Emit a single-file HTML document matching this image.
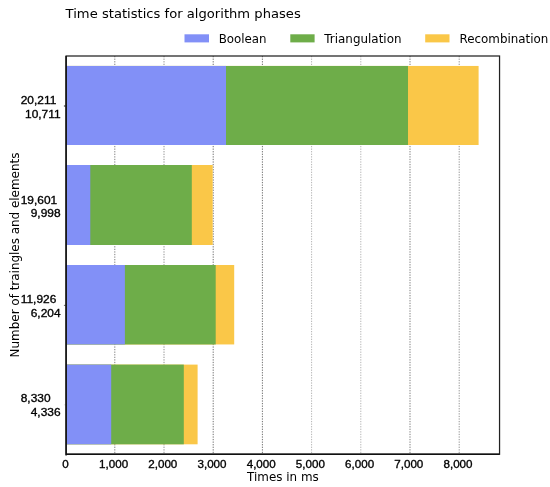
<!DOCTYPE html>
<html><head><meta charset="utf-8"><title>Time statistics for algorithm phases</title>
<style>
html,body{margin:0;padding:0;background:#fff;}
svg{display:block;}
.dv{font-family:"DejaVu Sans","Liberation Sans",sans-serif;fill:#000;}
.lb{font-family:"Liberation Sans","DejaVu Sans",sans-serif;fill:#000;stroke:#000;stroke-width:0.32;}
</style></head><body>
<svg width="550" height="487" viewBox="0 0 550 487">
<rect width="550" height="487" fill="#fff"/>
<g stroke-width="1" stroke-dasharray="1.3,1.27" fill="none">
<line x1="114.8" y1="56" x2="114.8" y2="455" stroke="#808080"/>
<line x1="164.0" y1="56" x2="164.0" y2="455" stroke="#909090"/>
<line x1="213.2" y1="56" x2="213.2" y2="455" stroke="#707070"/>
<line x1="262.4" y1="56" x2="262.4" y2="455" stroke="#707070"/>
<line x1="311.6" y1="56" x2="311.6" y2="455" stroke="#b4b4b4"/>
<line x1="360.8" y1="56" x2="360.8" y2="455" stroke="#b4b4b4"/>
<line x1="410.0" y1="56" x2="410.0" y2="455" stroke="#7c7c7c"/>
<line x1="459.2" y1="56" x2="459.2" y2="455" stroke="#949494"/>
</g>
<g>
<rect x="66.5" y="65.95" width="412.1" height="79.05" fill="#fac748"/>
<rect x="66.5" y="65.95" width="341.5" height="79.05" fill="#6ead49"/>
<rect x="66.5" y="65.95" width="159.5" height="79.05" fill="#8290f7"/>
<rect x="66.5" y="165.00" width="146.2" height="80.00" fill="#fac748"/>
<rect x="66.5" y="165.00" width="125.3" height="80.00" fill="#6ead49"/>
<rect x="66.5" y="165.00" width="23.8" height="80.00" fill="#8290f7"/>
<rect x="66.5" y="265.00" width="167.7" height="79.45" fill="#fac748"/>
<rect x="66.5" y="265.00" width="149.2" height="79.45" fill="#6ead49"/>
<rect x="66.5" y="265.00" width="58.4" height="79.45" fill="#8290f7"/>
<rect x="66.5" y="364.60" width="131.1" height="79.70" fill="#fac748"/>
<rect x="66.5" y="364.60" width="117.3" height="79.70" fill="#6ead49"/>
<rect x="66.5" y="364.60" width="44.7" height="79.70" fill="#8290f7"/>
</g>
<rect x="66.1" y="56.0" width="433.45" height="398.25" fill="none" stroke="#222" stroke-width="1.25"/>
<line x1="66.1" y1="56.0" x2="66.1" y2="455.45" stroke="#111" stroke-width="1.5"/>
<line x1="66.1" y1="454.25" x2="499.55" y2="454.25" stroke="#111" stroke-width="1.45"/>
<g stroke="#111" stroke-width="1.1">
<line x1="63.9" y1="106.0" x2="65.5" y2="106.0" stroke-opacity="0.9"/>
<line x1="63.9" y1="305.4" x2="65.5" y2="305.4" stroke-opacity="0.6"/>
<line x1="63.9" y1="404.8" x2="65.5" y2="404.8" stroke-opacity="0.12"/>
</g>
<text class="dv" x="65.6" y="17.6" font-size="12.6" textLength="235.2" lengthAdjust="spacingAndGlyphs">Time statistics for algorithm phases</text>
<rect x="184.5" y="34.3" width="24.5" height="8.1" fill="#8290f7"/>
<text class="dv" x="218.7" y="42.8" font-size="12.4" textLength="47.9" lengthAdjust="spacingAndGlyphs">Boolean</text>
<rect x="290.3" y="34.3" width="24.3" height="8.1" fill="#6ead49"/>
<text class="dv" x="324.3" y="42.8" font-size="12.4" textLength="77.2" lengthAdjust="spacingAndGlyphs">Triangulation</text>
<rect x="425.2" y="34.3" width="24.3" height="8.1" fill="#fac748"/>
<text class="dv" x="459.5" y="42.8" font-size="12.4" textLength="88.8" lengthAdjust="spacingAndGlyphs">Recombination</text>
<g class="lb" font-size="10.7" text-anchor="end">
<text x="20.7" y="104.2" text-anchor="start" transform="translate(20.7 0) scale(1.115 1) translate(-20.7 0)">20,211</text>
<text x="60.6" y="117.9" transform="translate(60.6 0) scale(1.115 1) translate(-60.6 0)">10,711</text>
<text x="20.7" y="203.6" text-anchor="start" transform="translate(20.7 0) scale(1.115 1) translate(-20.7 0)">19,601</text>
<text x="60.6" y="217.3" transform="translate(60.6 0) scale(1.115 1) translate(-60.6 0)">9,998</text>
<text x="20.7" y="303.0" text-anchor="start" transform="translate(20.7 0) scale(1.115 1) translate(-20.7 0)">11,926</text>
<text x="60.6" y="316.7" transform="translate(60.6 0) scale(1.115 1) translate(-60.6 0)">6,204</text>
<text x="20.7" y="402.4" text-anchor="start" transform="translate(20.7 0) scale(1.115 1) translate(-20.7 0)">8,330</text>
<text x="60.6" y="416.1" transform="translate(60.6 0) scale(1.115 1) translate(-60.6 0)">4,336</text>
</g>
<g class="lb" font-size="10.7" text-anchor="middle">
<text x="65.6" y="467.6" transform="translate(65.6 0) scale(1.085 1) translate(-65.6 0)">0</text>
<text x="113.6" y="467.6" transform="translate(113.6 0) scale(1.085 1) translate(-113.6 0)">1,000</text>
<text x="162.8" y="467.6" transform="translate(162.8 0) scale(1.085 1) translate(-162.8 0)">2,000</text>
<text x="212.0" y="467.6" transform="translate(212.0 0) scale(1.085 1) translate(-212.0 0)">3,000</text>
<text x="261.2" y="467.6" transform="translate(261.2 0) scale(1.085 1) translate(-261.2 0)">4,000</text>
<text x="310.4" y="467.6" transform="translate(310.4 0) scale(1.085 1) translate(-310.4 0)">5,000</text>
<text x="359.6" y="467.6" transform="translate(359.6 0) scale(1.085 1) translate(-359.6 0)">6,000</text>
<text x="408.8" y="467.6" transform="translate(408.8 0) scale(1.085 1) translate(-408.8 0)">7,000</text>
<text x="458.0" y="467.6" transform="translate(458.0 0) scale(1.085 1) translate(-458.0 0)">8,000</text>
</g>
<text class="dv" x="282.9" y="480.5" font-size="12.3" text-anchor="middle" textLength="71.6" lengthAdjust="spacingAndGlyphs">Times in ms</text>
<text class="dv" font-size="12.2" text-anchor="middle" textLength="204.8" lengthAdjust="spacingAndGlyphs" transform="translate(18.7,255) rotate(-90)">Number of traingles and elements</text>
</svg>
</body></html>
